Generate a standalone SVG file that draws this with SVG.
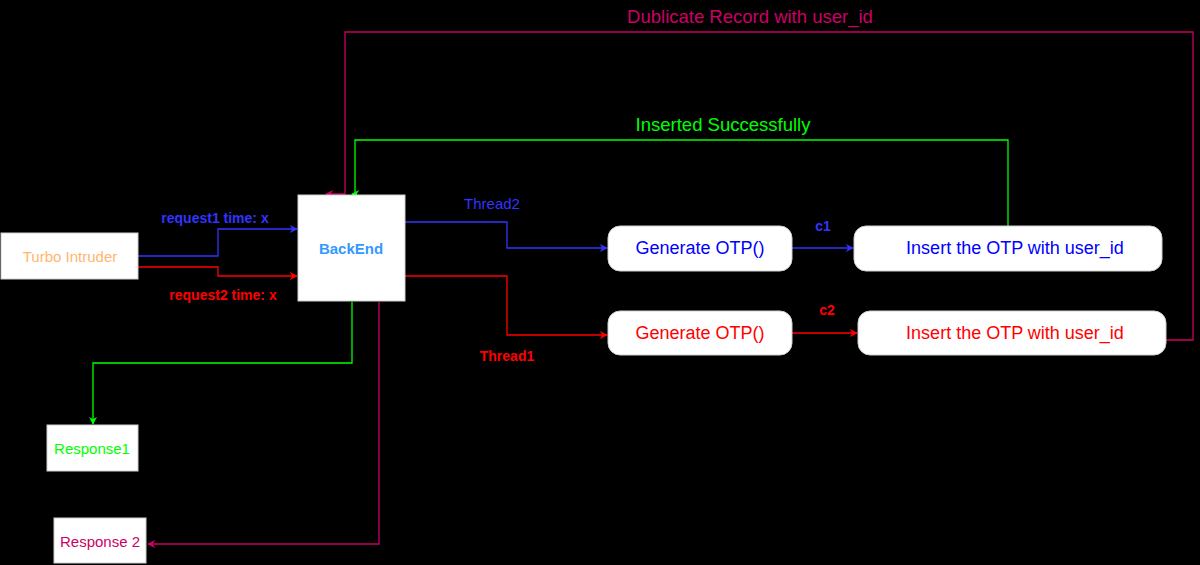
<svg xmlns="http://www.w3.org/2000/svg" width="1200" height="565" viewBox="0 0 1200 565">
<style>
text{font-family:"Liberation Sans",Arial,sans-serif;text-anchor:middle;dominant-baseline:central}
.box{fill:#fff;stroke:#cfcfcf;stroke-width:1}
.ln{fill:none;stroke-width:1.3}
.b{stroke:#3333ff}.r{stroke:#ff0000}.g{stroke:#00ff00}.m{stroke:#cc0066}
</style>
<defs>
<marker id="ab" viewBox="0 0 10 10" refX="9" refY="5" markerWidth="8" markerHeight="8" markerUnits="userSpaceOnUse" orient="auto"><path d="M0,0 L10,5 L0,10 L3,5 Z" fill="#3333ff"/></marker>
<marker id="ar" viewBox="0 0 10 10" refX="9" refY="5" markerWidth="8" markerHeight="8" markerUnits="userSpaceOnUse" orient="auto"><path d="M0,0 L10,5 L0,10 L3,5 Z" fill="#ff0000"/></marker>
<marker id="ag" viewBox="0 0 10 10" refX="9" refY="5" markerWidth="8" markerHeight="8" markerUnits="userSpaceOnUse" orient="auto"><path d="M0,0 L10,5 L0,10 L3,5 Z" fill="#00ff00"/></marker>
<marker id="am" viewBox="0 0 10 10" refX="9" refY="5" markerWidth="8" markerHeight="8" markerUnits="userSpaceOnUse" orient="auto"><path d="M0,0 L10,5 L0,10 L3,5 Z" fill="#cc0066"/></marker>
</defs>
<rect width="1200" height="565" fill="#000"/>
<g id="connectors">
<path class="ln b" d="M138,256 H218 V229 H297" marker-end="url(#ab)"/>
<path class="ln r" d="M138,267 H218 V276 H297" marker-end="url(#ar)"/>
<path class="ln b" d="M405,222 H507 V248 H607" marker-end="url(#ab)"/>
<path class="ln r" d="M405,276 H507 V335 H607" marker-end="url(#ar)"/>
<path class="ln b" d="M792,248 H853" marker-end="url(#ab)"/>
<path class="ln r" d="M792,333 H857" marker-end="url(#ar)"/>
<path class="ln g" d="M1008,226 V140 H355 V194 H352" marker-end="url(#ag)"/>
<path class="ln m" d="M1166,340 H1193 V32 H345 V194 H326" marker-end="url(#am)"/>
<path class="ln g" d="M352,302 V363 H93 V424" marker-end="url(#ag)"/>
<path class="ln m" d="M379,302 V544 H148" marker-end="url(#am)"/>
<text x="215" y="218" font-size="14" font-weight="bold" fill="#3333ff">request1 time: x</text>
<text x="223" y="295" font-size="14" font-weight="bold" fill="#ff0000">request2 time: x</text>
<text x="492" y="203" font-size="15" fill="#3333ff">Thread2</text>
<text x="507" y="356" font-size="14" font-weight="bold" fill="#ff0000">Thread1</text>
<text x="823" y="226" font-size="14" font-weight="bold" fill="#3333ff">c1</text>
<text x="827" y="310" font-size="14" font-weight="bold" fill="#ff0000">c2</text>
<text x="723" y="124" font-size="18.5" fill="#00ff00">Inserted Successfully</text>
<text x="750" y="16" font-size="18.5" fill="#cc0066">Dublicate Record with user_id</text>
</g>
<g id="turbo"><rect class="box" x="1" y="233" width="137" height="46"/><text x="70" y="256" font-size="15" fill="#ffb570">Turbo Intruder</text></g>
<g id="backend"><rect class="box" x="298" y="195" width="107" height="106"/><text x="351" y="248" font-size="15" font-weight="bold" fill="#3399ff">BackEnd</text></g>
<g id="gen1"><rect class="box" x="608" y="226" width="184" height="45" rx="12"/><text x="700" y="248" font-size="18" fill="#0000ff">Generate OTP()</text></g>
<g id="gen2"><rect class="box" x="608" y="311" width="184" height="44" rx="12"/><text x="700" y="333" font-size="18" fill="#ff0000">Generate OTP()</text></g>
<g id="ins1"><rect class="box" x="854" y="226" width="308" height="45" rx="12"/><text x="1015" y="248" font-size="18" fill="#0000ff">Insert the OTP with user_id</text></g>
<g id="ins2"><rect class="box" x="858" y="311" width="308" height="44" rx="12"/><text x="1015" y="333" font-size="18" fill="#ff0000">Insert the OTP with user_id</text></g>
<g id="resp1"><rect class="box" x="47" y="425" width="91" height="46"/><text x="92" y="448" font-size="15" fill="#00ff00">Response1</text></g>
<g id="resp2"><rect class="box" x="54" y="518" width="92" height="45"/><text x="100" y="541" font-size="15" fill="#cc0066">Response 2</text></g>
</svg>
